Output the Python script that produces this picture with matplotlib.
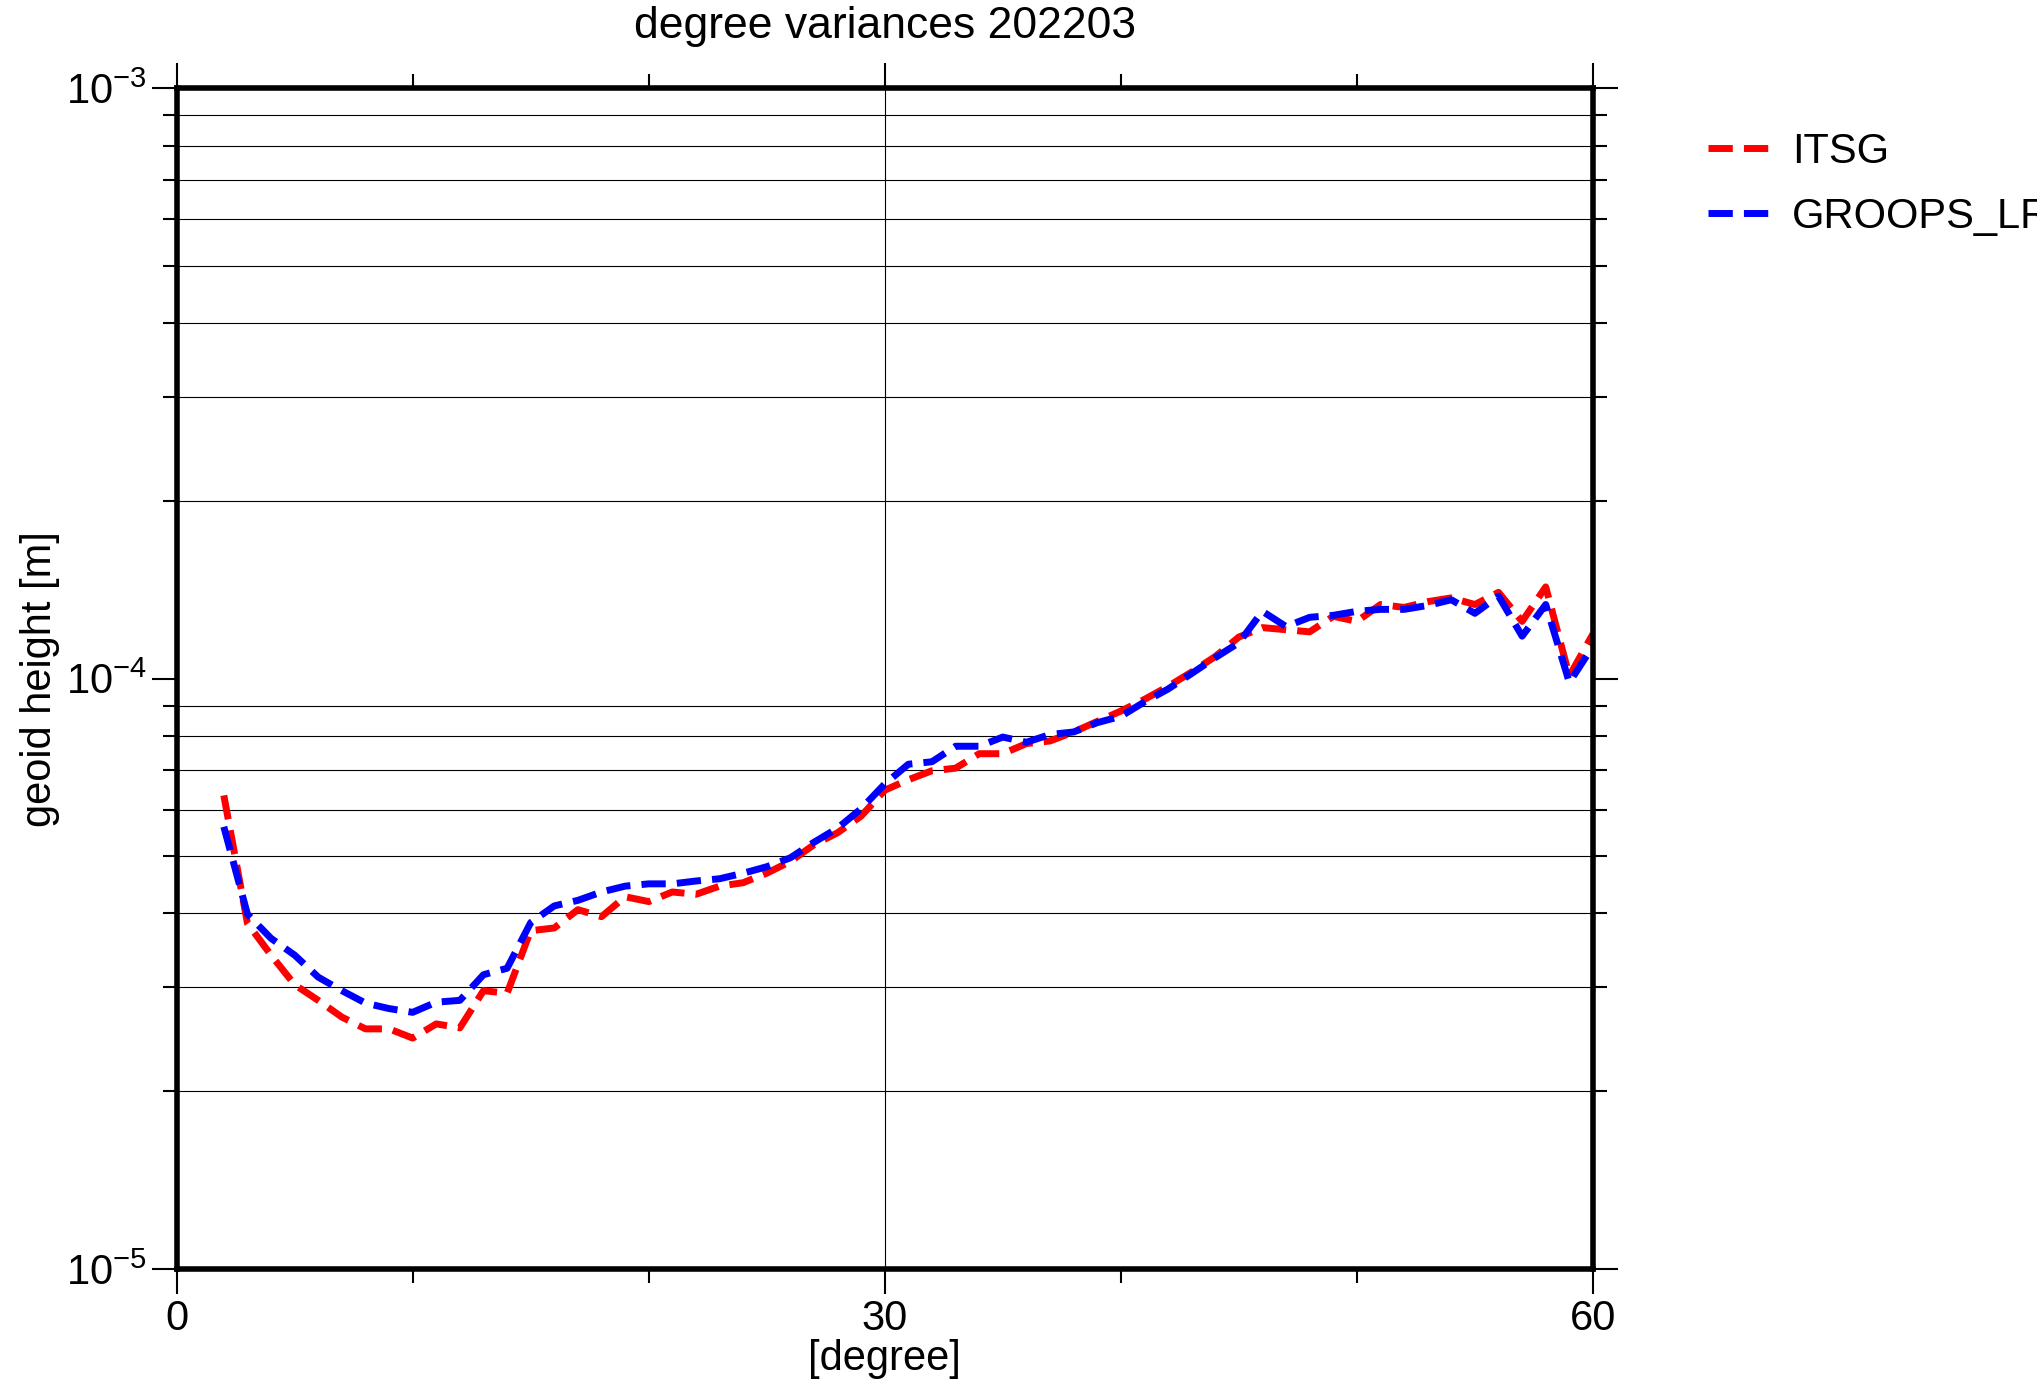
import numpy as np
import matplotlib
matplotlib.use('Agg')
import matplotlib.pyplot as plt
from matplotlib.ticker import LogLocator, FixedLocator, NullFormatter

plt.rcParams['font.family'] = ['Liberation Sans', 'DejaVu Sans']

degree = list(range(2, 61))
itsg = [6.34e-5, 3.85e-5, 3.40e-5, 3.03e-5, 2.85e-5, 2.67e-5, 2.55e-5, 2.55e-5, 2.46e-5, 2.60e-5,
        2.56e-5, 2.96e-5, 2.93e-5, 3.74e-5, 3.78e-5, 4.06e-5, 3.95e-5, 4.27e-5, 4.19e-5, 4.35e-5,
        4.31e-5, 4.45e-5, 4.51e-5, 4.68e-5, 4.90e-5, 5.23e-5, 5.48e-5, 5.85e-5, 6.47e-5, 6.74e-5,
        6.98e-5, 7.05e-5, 7.46e-5, 7.46e-5, 7.76e-5, 7.84e-5, 8.12e-5, 8.46e-5, 8.81e-5, 9.22e-5,
        9.70e-5, 1.026e-4, 1.09e-4, 1.176e-4, 1.22e-4, 1.21e-4, 1.20e-4, 1.275e-4, 1.25e-4, 1.335e-4,
        1.32e-4, 1.35e-4, 1.37e-4, 1.335e-4, 1.40e-4, 1.25e-4, 1.43e-4, 1.01e-4, 1.19e-4]
groops = [5.61e-5, 3.99e-5, 3.63e-5, 3.40e-5, 3.12e-5, 2.96e-5, 2.82e-5, 2.76e-5, 2.72e-5, 2.83e-5,
          2.85e-5, 3.15e-5, 3.23e-5, 3.86e-5, 4.12e-5, 4.21e-5, 4.35e-5, 4.45e-5, 4.49e-5, 4.49e-5,
          4.54e-5, 4.58e-5, 4.68e-5, 4.80e-5, 4.97e-5, 5.28e-5, 5.58e-5, 6.02e-5, 6.63e-5, 7.16e-5,
          7.23e-5, 7.68e-5, 7.68e-5, 7.96e-5, 7.80e-5, 8.04e-5, 8.12e-5, 8.42e-5, 8.63e-5, 9.13e-5,
          9.60e-5, 1.02e-4, 1.085e-4, 1.15e-4, 1.30e-4, 1.225e-4, 1.27e-4, 1.28e-4, 1.30e-4, 1.31e-4,
          1.31e-4, 1.33e-4, 1.36e-4, 1.29e-4, 1.38e-4, 1.18e-4, 1.335e-4, 0.985e-4, 1.135e-4]

fig = plt.figure(figsize=(20.37, 13.87), dpi=100)
ax = fig.add_axes([0.0867, 0.0852, 0.6953, 0.8511])

ax.plot(degree, itsg, color='red', lw=5, ls=(0, (3.5, 1.6)), label='ITSG')
ax.plot(degree, groops, color='blue', lw=5, ls=(0, (3.5, 1.6)), label='GROOPS_LRI')

ax.set_yscale('log')
ax.set_xlim(0, 60)
ax.set_ylim(1e-5, 1e-3)
ax.xaxis.set_major_locator(FixedLocator([0, 30, 60]))
ax.xaxis.set_minor_locator(FixedLocator([10, 20, 40, 50]))
ax.yaxis.set_major_locator(LogLocator(base=10, numticks=5))
ax.yaxis.set_minor_locator(LogLocator(base=10, subs=np.arange(2, 10), numticks=20))
ax.yaxis.set_minor_formatter(NullFormatter())

ax.grid(True, which='minor', axis='y', color='black', lw=0.8)
ax.grid(True, which='major', axis='x', color='black', lw=0.8)
ax.tick_params(which='both', direction='out', top=True, right=True, labelsize=30, width=1.5)
ax.tick_params(which='major', length=18)
ax.tick_params(which='minor', length=10)
for s in ax.spines.values():
    s.set_linewidth(4)

ax.set_title('degree variances 202203', fontsize=32, pad=36)
ax.set_xlabel('[degree]', fontsize=30, labelpad=0)
ax.set_ylabel('geoid height [m]', fontsize=30, labelpad=4)

ax.legend(loc='upper left', bbox_to_anchor=(1.055, 0.995), frameon=False, fontsize=30,
          handlelength=1.5, handletextpad=0.5, labelspacing=0.6)

fig.savefig('out.png', dpi=100)
